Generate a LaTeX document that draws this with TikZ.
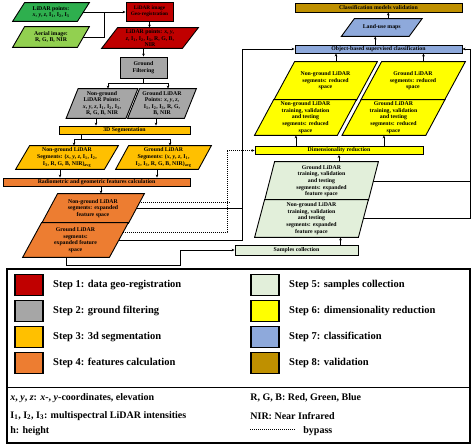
\documentclass[tikz,border=0pt]{standalone}
\usepackage{fontspec}
\setmainfont{Liberation Serif}
\usetikzlibrary{arrows.meta}
\usetikzlibrary{calc,backgrounds}

\definecolor{lidargreen}{HTML}{2EAF4E}
\definecolor{aerialgreen}{HTML}{92D050}
\definecolor{stepred}{HTML}{C00000}
\definecolor{stepgrey}{HTML}{A6A6A6}
\definecolor{stepamber}{HTML}{FFC000}
\definecolor{steporange}{HTML}{ED7D31}
\definecolor{steplight}{HTML}{E2EFDA}
\definecolor{stepyellow}{HTML}{FFFF00}
\definecolor{stepblue}{HTML}{8EA9DB}
\definecolor{stepgold}{HTML}{BF9000}

\newcommand{\flowfont}{\bfseries\fontsize{5.8}{6.6}\selectfont}
\newcommand{\Ione}{I\textsubscript{1}}
\newcommand{\Itwo}{I\textsubscript{2}}
\newcommand{\Ithree}{I\textsubscript{3}}

\tikzset{
  boxline/.style={draw=black, line width=0.9pt},
  stepbox/.style={boxline, inner sep=0pt, align=center, font=\flowfont},
  paratext/.style={inner sep=0pt, align=center, font=\flowfont},
  swatch/.style={draw=black, line width=1.6pt, minimum width=28, minimum height=21, inner sep=0pt},
  legtext/.style={anchor=west, inner sep=0pt, font=\bfseries\fontsize{10.5}{12}\selectfont},
  notetext/.style={anchor=west, inner sep=0pt, font=\bfseries\fontsize{10}{11}\selectfont},
  bypass/.style={densely dotted, line width=1pt},
}

% parallelogram: name, centre, side, height, half slant, fill, text
\newcommand{\paranode}[7]{%
  \node[paratext, minimum width=#3, minimum height=#4] (#1) at (#2) {#7};
  \begin{scope}[on background layer]
    \filldraw[boxline, fill=#6] ([xshift=#5]#1.north west) -- ([xshift=#5]#1.north east)
      -- ([xshift=-#5]#1.south east) -- ([xshift=-#5]#1.south west) -- cycle;
  \end{scope}
  \coordinate (#1-t) at ([xshift=#5]#1.north);
  \coordinate (#1-b) at ([xshift=-#5]#1.south);
}

\begin{document}
\begin{tikzpicture}[x=1pt,y=-1pt,line width=0.8pt,>={Stealth[length=3pt,width=2.6pt]}]
  \useasboundingbox (0,0) rectangle (474,445);

  % Step 1
  \paranode{lidarpts}{51,12}{64}{18}{6}{lidargreen}{LiDAR points:\\\textit{x}, \textit{y}, \textit{z}, \Ione, \Itwo, \Ithree}
  \paranode{aerial}{51,37}{64}{20}{6}{aerialgreen}{Aerial image:\\R, G, B, NIR}
  \node[stepbox, fill=stepred, minimum width=47, minimum height=19, font=\bfseries\fontsize{5.3}{6.4}\selectfont] (geobox) at (149.5,11.5) {LiDAR image\\Geo-registration};
  \paranode{lidarred}{150,38}{80}{20}{8}{stepred}{LiDAR points: \textit{x}, \textit{y},\\\textit{z}, \Ione, \Itwo, \Ithree, R, G, B,\\NIR}

  % Step 2
  \node[stepbox, fill=stepgrey, minimum width=47, minimum height=21] (groundfilt) at (143.5,67.5) {Ground\\Filtering};
  \paranode{ngpts}{102,103.5}{59}{29}{6}{stepgrey}{Non-ground\\LiDAR Points:\\\textit{x}, \textit{y}, \textit{z}, \Ione, \Itwo, \Ithree,\\R, G, B, NIR}
  \paranode{gpts}{162,103.5}{56}{29}{6}{stepgrey}{Ground LiDAR\\Points: \textit{x}, \textit{y}, \textit{z},\\\Ione, \Itwo, \Ithree, R, G,\\B, NIR}

  % Step 3
  \node[stepbox, fill=stepamber, minimum width=131, minimum height=8] (seg3d) at (124.5,130) {3D Segmentation};
  \paranode{ngseg}{67,157.5}{88}{23}{7}{stepamber}{Non-ground LiDAR\\Segments: (\textit{x}, \textit{y}, \textit{z}, \Ione, \Itwo,\\\Ithree, R, G, B, NIR)\textsubscript{avg}}
  \paranode{gseg}{163.5,157.5}{82}{23}{6.5}{stepamber}{Ground LiDAR\\Segments: (\textit{x}, \textit{y}, \textit{z}, \Ione,\\\Itwo, \Ithree, R, G, B, NIR)\textsubscript{avg}}

  % Step 4
  \node[stepbox, fill=steporange, minimum width=187, minimum height=8] (radiom) at (96.5,182) {Radiometric and geometric features calculation};
  \paranode{ngexp}{93,208.5}{86}{29}{8}{steporange}{Non-ground LiDAR\\segments: expanded\\feature space}
  \paranode{gexp}{75.5,240}{86}{34}{9.5}{steporange}{Ground LiDAR\\segments:\\expanded feature\\space}

  % Step 5
  \node[stepbox, fill=steplight, minimum width=123, minimum height=10] (samples) at (296.5,250) {Samples collection};
  \paranode{gtrain}{321.5,181}{103}{38}{5}{steplight}{Ground LiDAR\\training, validation\\and testing\\segments: expanded\\feature space}
  \paranode{ngtrain}{311.5,218.5}{103}{37}{5}{steplight}{Non-ground LiDAR\\training, validation\\and testing\\segments: expanded\\feature space}

  % Step 6
  \node[stepbox, fill=stepyellow, minimum width=168, minimum height=8] (dimred) at (339,150.5) {Dimensionality reduction};
  \paranode{ngred}{325.5,81}{82}{38}{10.5}{stepyellow}{Non-ground LiDAR\\segments: reduced\\space}
  \paranode{ngtrainred}{305.5,117.5}{82}{35}{9.6}{stepyellow}{Non-ground LiDAR\\training, validation\\and testing\\segments: reduced\\space}
  \paranode{gred}{413,81}{83}{38}{10.5}{stepyellow}{Ground LiDAR\\segments: reduced\\space}
  \paranode{gtrainred}{393.5,117.5}{83}{35}{9.6}{stepyellow}{Ground LiDAR\\training, validation\\and testing\\segments: reduced\\space}

  % Step 7 and 8
  \node[stepbox, fill=stepblue, minimum width=167, minimum height=8] (objcls) at (378.5,49) {Object-based supervised classification};
  \paranode{landuse}{381.75,27.5}{67}{17}{6.5}{stepblue}{Land-use maps}
  \node[stepbox, fill=stepgold, minimum width=167, minimum height=9] (validate) at (378.5,7.5) {Classification models validation};

  \coordinate (lloop) at (242,0);
  \coordinate (dloop) at (227,0);
  \coordinate (rloop) at (470,0);

  % connectors, left column
  \draw[->] (lidarpts.east) -- (lidarpts.east -| geobox.west);
  \draw (aerial.east) -| ($(lidarpts.east)!0.5!(geobox.west)$);
  \draw[->] (geobox.south) -- (geobox.south |- lidarred.north);
  \draw[->] (lidarred.south -| groundfilt.north) -- (groundfilt.north);
  \draw (groundfilt.south) -- ++(0,5) coordinate (gfsplit);
  \draw[->] (gfsplit) -| (ngpts-t);
  \draw[->] (gfsplit) -| (gpts-t);
  \draw[->] (ngpts-b) -- (ngpts-b |- seg3d.north);
  \draw[->] (gpts-b) -- (gpts-b |- seg3d.north);
  \draw ([xshift=-43.5pt]seg3d.south) -- ++(0,5) coordinate (segsplit);
  \draw[->] (segsplit) -| (ngseg-t);
  \draw[->] (segsplit) -| (gseg-t);
  \draw[->] (ngseg-b) -- (ngseg-b |- radiom.north);
  \draw[->] (gseg-b) -- (gseg-b |- radiom.north);
  \draw[->] (ngexp-t |- radiom.south) -- (ngexp-t);

  % to classification and bypass
  \draw[->] (ngexp.east) -- (ngexp.east -| lloop) |- (objcls.west);
  \draw (gexp.east) -- (gexp.east -| lloop) -- (ngexp.east -| lloop);
  \draw[bypass,->] ([shift={(4pt,8pt)}]gexp.east) -| (dloop |- dimred.west) -- (dimred.west);
  \draw[bypass] ([shift={(3pt,6pt)}]ngexp.east) -- ([shift={(3pt,6pt)}]ngexp.east -| dloop);
  \draw[->] (gexp-b) -- ++(0,8) -- ++(114,0) |- (samples.west);

  % right column
  \draw[->] ([xshift=44pt]samples.north) -- ([xshift=44pt]samples.north |- ngtrain.south);
  \draw[->] (gtrain.north -| dimred.south) -- (dimred.south);
  \draw (gtrain.east) -- (gtrain.east -| rloop);
  \draw[->] (ngtrain.east) -- (ngtrain.east -| rloop) |- (objcls.east);
  \draw[->] (ngtrainred-b |- dimred.north) -- (ngtrainred-b);
  \draw[->] (gtrainred-b |- dimred.north) -- (gtrainred-b);
  \draw[->] (ngred-t) -- (ngred-t |- objcls.south);
  \draw[->] (gred-t) -- (gred-t |- objcls.south);
  \draw[->] (landuse-b |- objcls.north) -- (landuse-b);
  \draw[->] (landuse-t) -- (landuse-t |- validate.south);

  % Legend
  \draw[line width=1.6pt] (7,269) rectangle (470,443);
  \draw[line width=1pt] (7,387) -- (470,387);
  \foreach \c/\t [count=\k] in {stepred/{Step 1: data geo-registration}, stepgrey/{Step 2: ground filtering}, stepamber/{Step 3: 3d segmentation}, steporange/{Step 4: features calculation}}{
    \node[swatch, fill=\c] (swl\k) at (29,259+26*\k) {};
    \node[legtext] (txl\k) at ([xshift=9pt]swl\k.east) {\t};
  }
  \foreach \c/\t [count=\k] in {steplight/{Step 5: samples collection}, stepyellow/{Step 6: dimensionality reduction}, stepblue/{Step 7: classification}, stepgold/{Step 8: validation}}{
    \node[swatch, fill=\c] (swr\k) at (265,259+26*\k) {};
    \node[legtext] (txr\k) at ([xshift=9pt]swr\k.east) {\t};
  }

  % Notes
  \node[notetext] (note1) at (10,398) {\textit{x}, \textit{y}, \textit{z}: \textit{x}-, \textit{y}-coordinates, elevation};
  \node[notetext] (note2) at (10,416) {\Ione, \Itwo, \Ithree: multispectral LiDAR intensities};
  \node[notetext] (note3) at (10,431) {h: height};
  \node[notetext] (note4) at (250,398) {R, G, B: Red, Green, Blue};
  \node[notetext] (note5) at (250,416) {NIR: Near Infrared};
  \node[notetext] (bypasslbl) at (303,431) {bypass};
  \coordinate (bpa) at (250,429);
  \draw[bypass] (bpa) -- ([xshift=-8pt]bpa -| bypasslbl.west);
  \end{tikzpicture}
\end{document}
